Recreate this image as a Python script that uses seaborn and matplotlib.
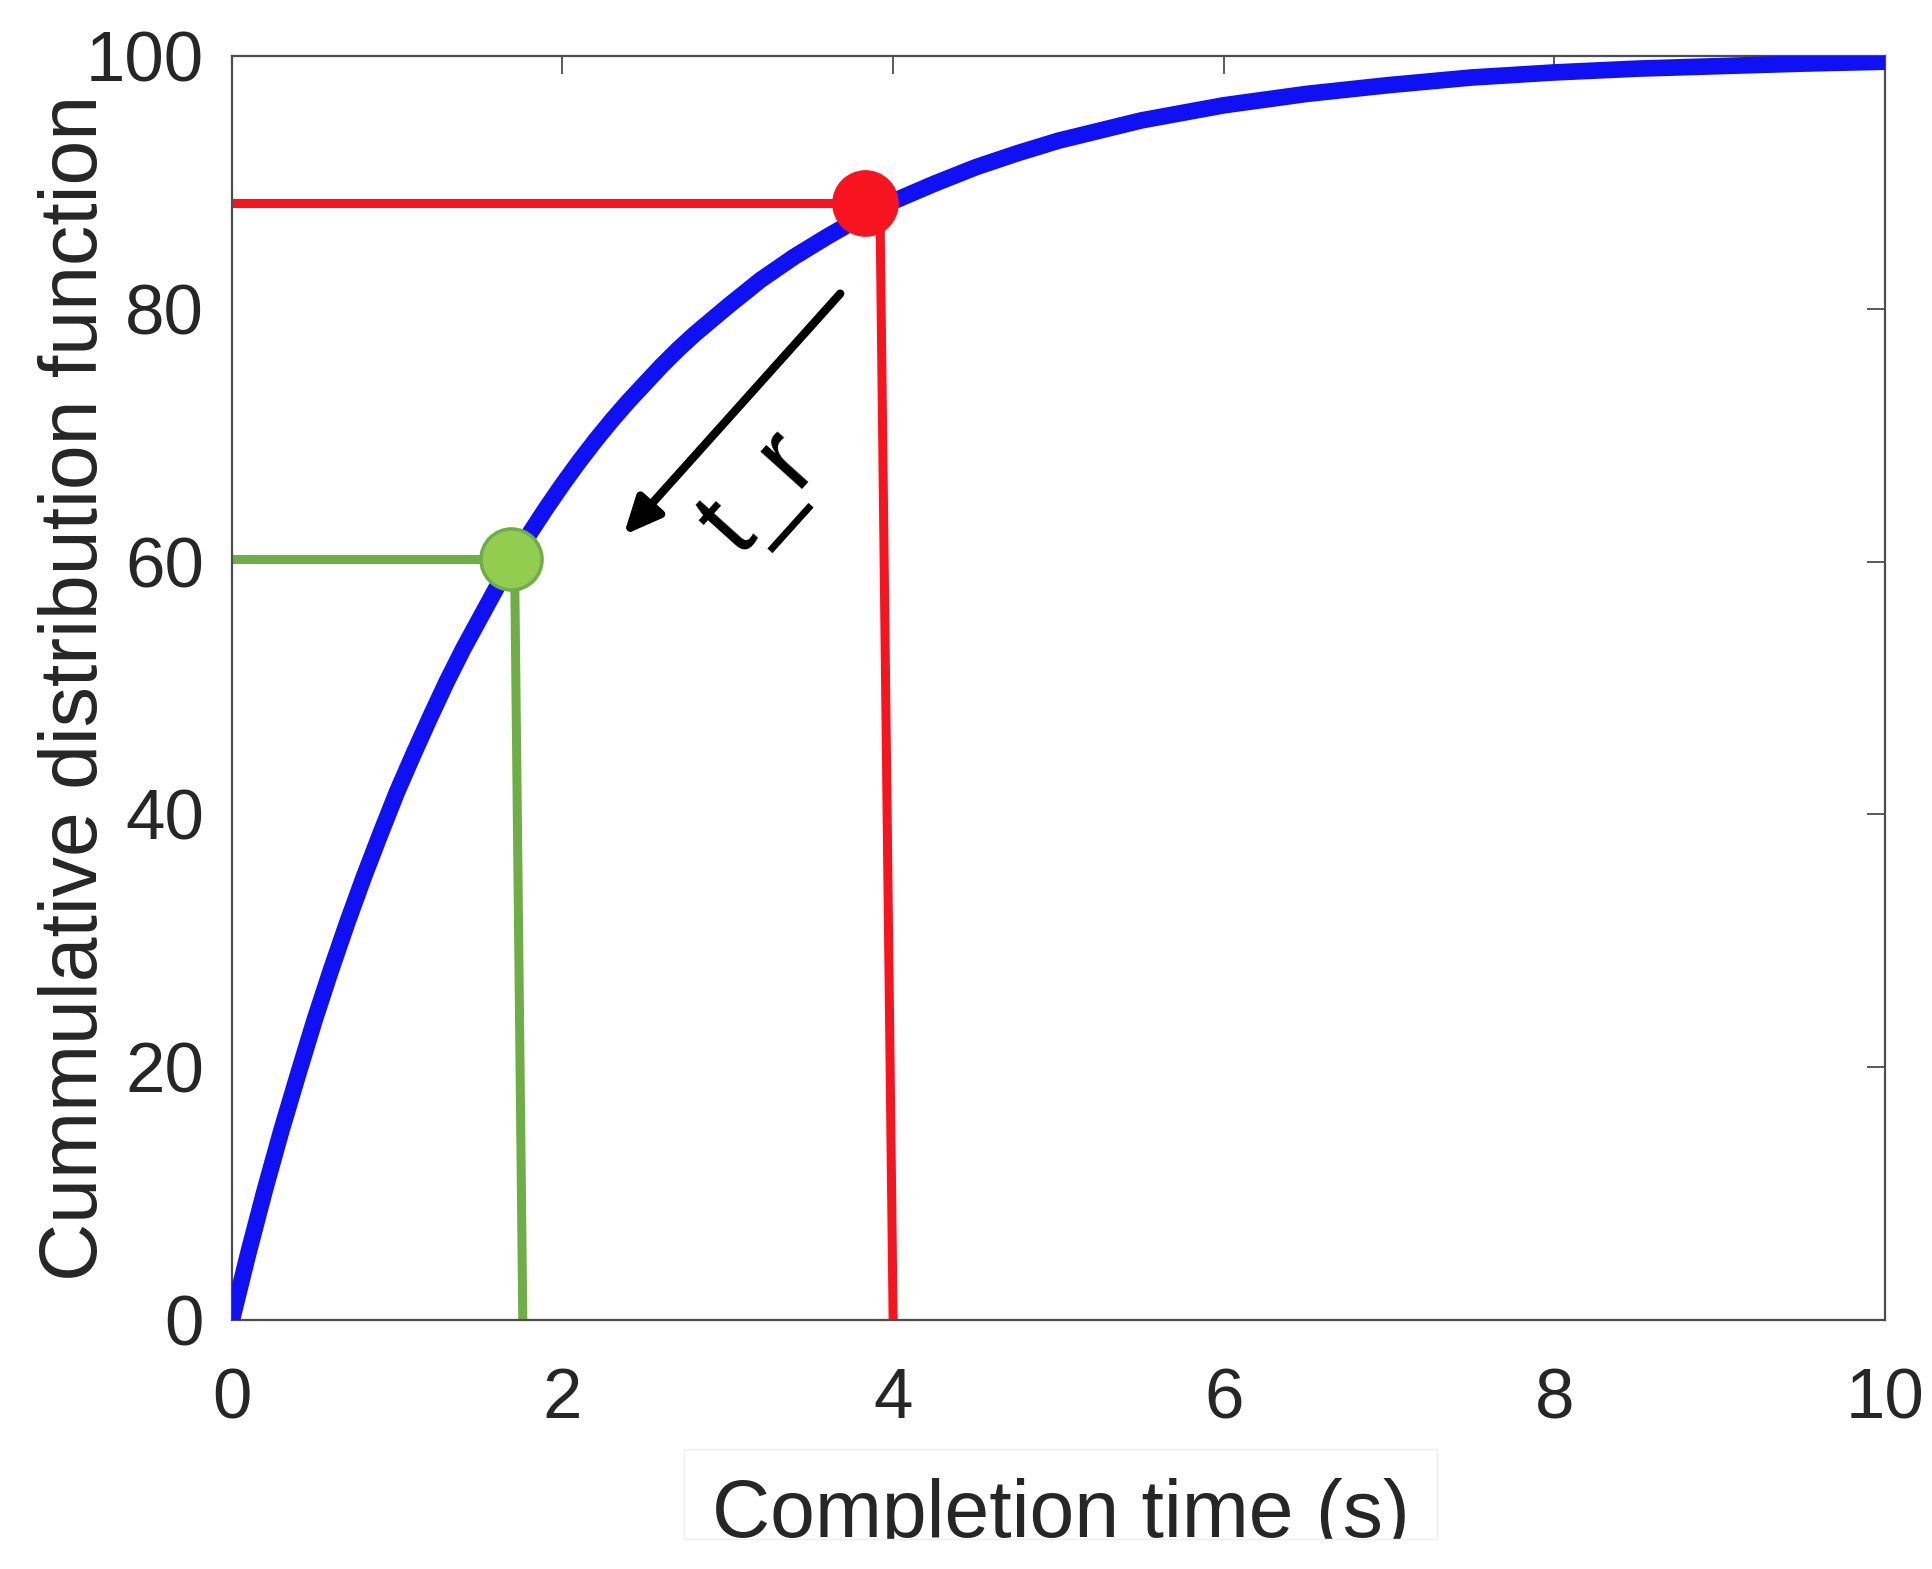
import numpy as np
import pandas as pd
import matplotlib
matplotlib.use("Agg")
import matplotlib.pyplot as plt
from matplotlib.patches import Rectangle
import seaborn as sns

# values
cdf_time = [0, 0.1, 0.2, 0.3, 0.4, 0.5, 0.6, 0.7, 0.8, 0.9,
            1.0, 1.1, 1.2, 1.3, 1.4, 1.5, 1.6, 1.7, 1.8, 1.9,
            2.0, 2.1, 2.2, 2.3, 2.4, 2.5, 2.6, 2.7, 2.8, 2.9,
            3.0, 3.2, 3.4, 3.6, 3.8, 4.0, 4.25, 4.5, 4.75, 5.0,
            5.5, 6.0, 6.5, 7.0, 7.5, 8.0, 8.5, 9.0, 9.5, 10.0]
cdf_value = [0, 5.3, 10.3, 15.0, 19.4, 23.7, 27.7, 31.5, 35.1, 38.5,
             41.8, 44.8, 47.7, 50.5, 53.1, 55.5, 57.9, 60.1, 62.2, 64.2,
             66.1, 67.9, 69.6, 71.2, 72.7, 74.1, 75.5, 76.8, 78.0, 79.1,
             80.2, 82.3, 84.1, 85.7, 87.2, 88.5, 89.9, 91.2, 92.3, 93.3,
             94.9, 96.1, 97.0, 97.7, 98.3, 98.7, 99.0, 99.2, 99.4, 99.55]

red_point = (3.83, 88.4)
red_drop = ([3.92, 4.0], [88.4, 0])
green_point = (1.69, 60.2)
green_drop = ([1.71, 1.76], [60.2, 0])

arrow_start = (3.68, 81.2)
arrow_end = (2.37, 62.1)
arrow_label = "t_r"

x_ticks = [0, 2, 4, 6, 8, 10]
y_ticks = [0, 20, 40, 60, 80, 100]

sns.set_theme(style="white")
plt.rcParams['font.family'] = ['Liberation Sans', 'DejaVu Sans']

RED = '#f7141f'
GREEN_FILL = '#92cd4f'
GREEN_EDGE = '#6fad46'
BLUE = '#1010f5'
TEXT = '#262626'

fig = plt.figure(figsize=(19.32, 15.69), dpi=100)
ax = fig.add_axes([0.120, 0.1587, 0.8557, 0.8056])

curve = pd.DataFrame({'time': cdf_time, 'cdf': cdf_value})
sns.lineplot(data=curve, x='time', y='cdf', color=BLUE, linewidth=12, ax=ax,
             zorder=3, solid_capstyle='round', solid_joinstyle='round')

# red guide lines + point
ax.plot([0, red_point[0]], [red_point[1], red_point[1]], color=RED, lw=6.5, zorder=2)
ax.plot(red_drop[0], red_drop[1], color=RED, lw=6.5, zorder=2)
ax.plot([red_point[0]], [red_point[1]], 'o', color=RED, markersize=47, zorder=5)

# green guide lines + point
ax.plot([0, green_point[0]], [green_point[1], green_point[1]], color=GREEN_EDGE, lw=6.5, zorder=2)
ax.plot(green_drop[0], green_drop[1], color=GREEN_EDGE, lw=6.5, zorder=2)
ax.plot([green_point[0]], [green_point[1]], 'o', markerfacecolor=GREEN_FILL,
        markeredgecolor=GREEN_EDGE, markeredgewidth=2.5, markersize=44, zorder=5)

# arrow with t_r label
ax.annotate('', xy=arrow_end, xytext=arrow_start,
            arrowprops=dict(arrowstyle='-|>,head_length=1.1,head_width=0.5',
                            mutation_scale=20, color='black', lw=6,
                            shrinkA=0, shrinkB=0), zorder=6)
ax.text(3.19, 65.4, arrow_label, fontsize=76, rotation=48, rotation_mode='anchor',
        ha='center', va='center', color='black', zorder=6)

ax.set_xlim(0, 10)
ax.set_ylim(0, 100)
ax.set_xticks(x_ticks)
ax.set_yticks(y_ticks)
ax.tick_params(direction='in', length=13, width=1.3, color='#4d4d4d',
               top=True, right=True, labelsize=51, labelcolor=TEXT)
ax.tick_params(axis='x', pad=34)
ax.tick_params(axis='y', pad=20)
for s in ax.spines.values():
    s.set_color('#4d4d4d')
    s.set_linewidth(1.6)

ax.set_ylabel('Cummulative distribution function', fontsize=58, color=TEXT, va='baseline')
ax.yaxis.set_label_coords(-0.0817, 0.5)

xl = ax.set_xlabel('Completion time (s)', fontsize=58, color=TEXT, va='baseline')
ax.xaxis.set_label_coords(0.5015, -0.1717)

# faint frame around the x label, text cut off at its bottom edge
box = Rectangle((684 / 1932, 1 - 1539 / 1569), 753 / 1932, 90 / 1569,
                transform=fig.transFigure, fill=False, edgecolor='#eeeeee', lw=1)
fig.patches.append(box)
xl.set_clip_path(box)

fig.savefig('out.png', dpi=100)
